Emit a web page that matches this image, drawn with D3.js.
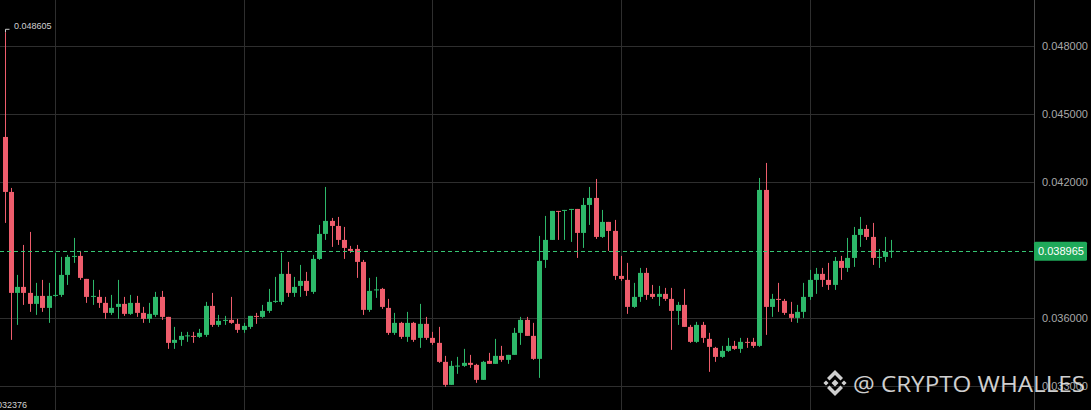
<!DOCTYPE html>
<html><head><meta charset="utf-8">
<script src="https://cdn.jsdelivr.net/npm/d3@7"></script>
<style>html,body{margin:0;padding:0;background:#000;overflow:hidden}svg{display:block}</style>
</head><body>
<svg id="c" width="1091" height="410"></svg>
<script>
const opens=[0.043987,0.041562,0.037108,0.037372,0.037108,0.036623,0.036975,0.036446,0.036975,0.037019,
0.037901,0.038695,0.038739,0.037725,0.036931,0.036931,0.036667,0.036226,0.036490,0.036623,
0.036182,0.036667,0.036226,0.035961,0.036137,0.036931,0.036049,0.034903,0.035035,0.035211,
0.035211,0.035167,0.035255,0.036534,0.035696,0.035873,0.035917,0.035741,0.035476,0.035608,
0.036093,0.036049,0.036314,0.036711,0.036711,0.037946,0.037108,0.037416,0.037637,0.037152,
0.038607,0.039710,0.040283,0.040062,0.039445,0.039048,0.039048,0.038475,0.036358,0.037218,
0.037284,0.036446,0.035344,0.035785,0.035167,0.035785,0.035123,0.035741,0.035123,0.034903,
0.034065,0.033050,0.033866,0.033888,0.034021,0.033932,0.033271,0.034109,0.033977,0.034329,
0.034153,0.034373,0.035344,0.035917,0.035211,0.034197,0.038563,0.039445,0.040724,0.040746,
0.040790,0.040812,0.039754,0.040988,0.041297,0.039577,0.040239,0.039842,0.037857,0.037681,
0.036490,0.036931,0.037990,0.037064,0.036931,0.037064,0.036843,0.036314,0.036578,0.035608,
0.034947,0.035696,0.035079,0.034682,0.034285,0.034550,0.034770,0.034638,0.034947,0.034947,
0.034770,0.041650,0.036490,0.036843,0.036755,0.036182,0.036005,0.036270,0.036931,0.037681,
0.037946,0.037681,0.037460,0.038519,0.038210,0.038651,0.039665,0.039930,0.039577,0.038651,
0.038695,0.038916];
const closes=[0.041562,0.037108,0.037372,0.037108,0.036623,0.036975,0.036446,0.036975,0.037019,0.037901,
0.038695,0.038739,0.037769,0.036931,0.036975,0.036667,0.036226,0.036446,0.036623,0.036182,
0.036667,0.036226,0.035961,0.036182,0.036931,0.036049,0.034903,0.035035,0.035211,0.035233,
0.035167,0.035344,0.036534,0.035696,0.035873,0.035917,0.035785,0.035476,0.035652,0.036093,
0.036049,0.036314,0.036711,0.036755,0.037946,0.037108,0.037372,0.037637,0.037196,0.038607,
0.039710,0.040283,0.040062,0.039445,0.039092,0.038960,0.038475,0.036358,0.037196,0.037262,
0.036490,0.035344,0.035785,0.035167,0.035785,0.035035,0.035741,0.035123,0.034903,0.034065,
0.033050,0.033888,0.033900,0.034021,0.033932,0.033271,0.034065,0.033977,0.034329,0.034153,
0.034373,0.035344,0.035917,0.035211,0.034197,0.038519,0.039445,0.040724,0.040680,0.040768,
0.040812,0.039754,0.040988,0.041297,0.039577,0.040239,0.039842,0.037857,0.037725,0.036490,
0.036931,0.037990,0.037019,0.036931,0.037064,0.036843,0.036314,0.036578,0.035608,0.034947,
0.035696,0.035123,0.034726,0.034285,0.034550,0.034770,0.034638,0.034947,0.034903,0.034770,
0.041650,0.036490,0.036843,0.036799,0.036226,0.036005,0.036270,0.036931,0.037681,0.037946,
0.037681,0.037460,0.038519,0.038210,0.038651,0.039665,0.039930,0.039577,0.038651,0.038695,
0.038916,0.038965];
const highs=[0.048605,0.041738,0.037901,0.039224,0.039798,0.037549,0.037681,0.037549,0.038872,0.038695,
0.038783,0.039533,0.038960,0.037725,0.037681,0.037240,0.036931,0.037019,0.037681,0.036931,
0.037019,0.036975,0.036490,0.036667,0.037152,0.037196,0.036049,0.035608,0.035388,0.035388,
0.035388,0.035520,0.036711,0.037108,0.036137,0.036093,0.036931,0.035961,0.035785,0.036093,
0.036226,0.036578,0.037284,0.037813,0.038872,0.038475,0.037813,0.038342,0.038034,0.038783,
0.040106,0.041782,0.040415,0.040459,0.040018,0.039180,0.039224,0.038563,0.037769,0.037813,
0.037328,0.036843,0.036226,0.035829,0.036270,0.035829,0.036623,0.036049,0.035388,0.035608,
0.034329,0.034109,0.034285,0.034638,0.034373,0.033977,0.034109,0.034462,0.035079,0.034770,
0.034373,0.035564,0.036049,0.036049,0.035785,0.039621,0.040503,0.040724,0.040724,0.040768,
0.040812,0.040812,0.041297,0.041782,0.042135,0.040768,0.040239,0.040327,0.038739,0.038431,
0.037549,0.038210,0.038210,0.037460,0.037416,0.037328,0.037328,0.036711,0.037284,0.035696,
0.035829,0.035829,0.035344,0.034726,0.034770,0.035123,0.034991,0.035123,0.035123,0.035123,
0.042179,0.042841,0.037064,0.037549,0.036843,0.036711,0.036578,0.037549,0.038122,0.038210,
0.038210,0.038431,0.038695,0.038739,0.039533,0.040018,0.040459,0.040106,0.040195,0.039048,
0.039577,0.039445];
const lows=[0.040195,0.035035,0.035696,0.036578,0.036270,0.036137,0.036270,0.035785,0.036931,0.036931,
0.037460,0.038431,0.037681,0.036667,0.036578,0.036446,0.035961,0.036137,0.035961,0.036093,
0.036137,0.036049,0.035785,0.035785,0.036049,0.035917,0.034638,0.034638,0.034770,0.034947,
0.034903,0.035123,0.035167,0.035608,0.035608,0.035696,0.035741,0.035344,0.035344,0.035520,
0.035741,0.036005,0.036226,0.036667,0.036578,0.036931,0.036931,0.036931,0.036975,0.037064,
0.038563,0.039445,0.039136,0.039224,0.038607,0.038872,0.037769,0.036137,0.036270,0.036887,
0.036402,0.035255,0.035255,0.035079,0.034947,0.034947,0.034682,0.035035,0.034814,0.034021,
0.032962,0.033050,0.033536,0.033844,0.033800,0.033139,0.033271,0.033977,0.033977,0.034065,
0.033977,0.034373,0.034814,0.035211,0.034153,0.033359,0.038210,0.039445,0.039445,0.039445,
0.039357,0.038651,0.039092,0.040106,0.039489,0.039533,0.038960,0.037681,0.037637,0.036182,
0.036446,0.036711,0.036799,0.036843,0.036534,0.036755,0.034594,0.035696,0.035608,0.034903,
0.034903,0.034903,0.033624,0.034065,0.034241,0.034506,0.034594,0.034462,0.034682,0.034682,
0.034726,0.035255,0.036049,0.036270,0.036137,0.035829,0.035785,0.036005,0.036799,0.037064,
0.037372,0.037240,0.037240,0.037681,0.038034,0.038254,0.039136,0.039445,0.038342,0.038210,
0.038475,0.038651];
const yTicks=[0.048,0.045,0.042,0.039,0.036,0.033];
const timeGridIdx=[8,38,68,98,128];
const lastPrice=0.038965, markHigh=0.048605, markLow=0.032376;
const watermark="@ CRYPTO WHALLES";

const W=1091,H=410,axisX=1034;
const RED="#ee5d6c",GREEN="#2db86a";
const svg=d3.select("#c");
svg.append("rect").attr("width",W).attr("height",H).attr("fill","#000");
const n=opens.length;
const x=d3.scaleLinear().domain([0,n-1]).range([4.5,891.4]);
const y=d3.scaleLinear().domain([0.033,0.048]).range([386,46]);
const px=v=>Math.round(v)+0.5;

// grid (the line at the last price level is covered by the price line)
const g=svg.append("g");
g.selectAll("line.h").data(yTicks.filter(d=>Math.abs(y(d)-y(lastPrice))>3)).join("line")
 .attr("x1",0).attr("x2",axisX).attr("y1",d=>px(y(d))).attr("y2",d=>px(y(d)))
 .attr("stroke","#2e2e2e").attr("stroke-width",1);
g.selectAll("line.v").data(timeGridIdx).join("line")
 .attr("x1",d=>px(x(d))).attr("x2",d=>px(x(d))).attr("y1",0).attr("y2",H)
 .attr("stroke","#2e2e2e").attr("stroke-width",1);
svg.append("line").attr("x1",axisX+0.5).attr("x2",axisX+0.5).attr("y1",0).attr("y2",H)
 .attr("stroke","#4a4a4a");

// candles
const data=d3.range(n).map(i=>({i,o:opens[i],c:closes[i],h:highs[i],l:lows[i]}));
const cg=svg.append("g");
cg.selectAll("line.w").data(data).join("line")
 .attr("x1",d=>px(x(d.i))).attr("x2",d=>px(x(d.i)))
 .attr("y1",d=>y(d.h)).attr("y2",d=>y(d.l))
 .attr("stroke",d=>d.c>=d.o?GREEN:RED).attr("stroke-width",1);
cg.selectAll("rect").data(data).join("rect")
 .attr("x",d=>Math.round(x(d.i))-2).attr("width",5)
 .attr("y",d=>y(Math.max(d.o,d.c)))
 .attr("height",d=>Math.max(1,Math.abs(y(d.o)-y(d.c))))
 .attr("fill",d=>d.c>=d.o?GREEN:RED);

// last price line
svg.append("line").attr("x1",0).attr("x2",axisX).attr("y1",px(y(lastPrice))).attr("y2",px(y(lastPrice)))
 .attr("stroke","#36c673").attr("stroke-dasharray","4,3").attr("stroke-width",1);

// y axis labels
const ax=svg.append("g").attr("font-family","Liberation Sans, Arial, sans-serif").attr("font-size",11).attr("fill","#a8a8a8");
ax.selectAll("text").data(yTicks.filter(d=>d!==0.039)).join("text")
 .attr("x",axisX+8).attr("y",d=>y(d)).attr("dy","0.35em").text(d=>d.toFixed(6));

// last price label
const ly=y(lastPrice);
svg.append("rect").attr("x",axisX).attr("y",ly-9).attr("width",53).attr("height",19).attr("rx",1.5).attr("fill","#1fa95a");
svg.append("text").attr("x",axisX+4).attr("y",ly).attr("dy","0.35em")
 .attr("font-family","Liberation Sans, Arial, sans-serif").attr("font-size",11).attr("fill","#fff").text(lastPrice.toFixed(6));

// high / low markers
const hy=y(markHigh);
svg.append("path").attr("d",`M${px(x(0))},${hy} V${hy-3} H${px(x(0))+4}`).attr("fill","none").attr("stroke","#ccc").attr("stroke-width",1);
svg.append("text").attr("x",14).attr("y",hy-6).attr("dy","0.35em")
 .attr("font-family","Liberation Sans, Arial, sans-serif").attr("font-size",9).attr("fill","#d0d0d0").text(markHigh.toFixed(6));
svg.append("text").attr("x",27).attr("y",405).attr("dy","0.35em").attr("text-anchor","end")
 .attr("font-family","Liberation Sans, Arial, sans-serif").attr("font-size",9).attr("fill","#d0d0d0").text(markLow.toFixed(6));

// watermark
const wm=svg.append("g").attr("fill","#e6e6e6").attr("opacity",0.9);
const lx=835,lyc=383;
const dia=(cx,cy,r)=>`M${cx},${cy-r} L${cx+r},${cy} L${cx},${cy+r} L${cx-r},${cy} Z`;
wm.append("path").attr("d",dia(lx,lyc,3.5)+dia(lx-9,lyc,2.6)+dia(lx+9,lyc,2.6));
wm.append("path").attr("d",`M${lx-8},${lyc-5} L${lx},${lyc-13} L${lx+8},${lyc-5} L${lx+5.5},${lyc-2.5} L${lx},${lyc-8} L${lx-5.5},${lyc-2.5} Z`);
wm.append("path").attr("d",`M${lx-8},${lyc+5} L${lx},${lyc+13} L${lx+8},${lyc+5} L${lx+5.5},${lyc+2.5} L${lx},${lyc+8} L${lx-5.5},${lyc+2.5} Z`);
wm.append("text").attr("x",853).attr("y",392).attr("font-family","Open Sans, Noto Sans, sans-serif")
 .attr("font-size",22).attr("textLength",232).attr("lengthAdjust","spacingAndGlyphs").text(watermark);
</script>
</body></html>
